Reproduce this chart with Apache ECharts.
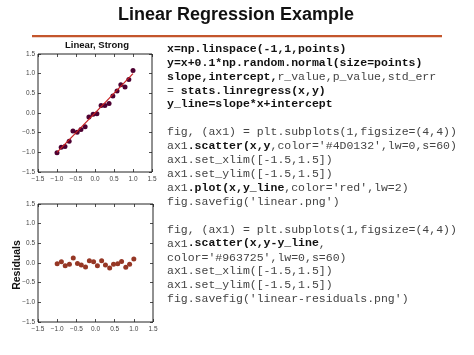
<!DOCTYPE html>
<html>
<head>
<meta charset="utf-8">
<script src="https://cdn.jsdelivr.net/npm/echarts@6/dist/echarts.min.js"></script>
<style>
html,body{margin:0;padding:0;background:#fff;}
#main{width:474px;height:355px;}
</style>
</head>
<body>
<div id="main"></div>
<script>
// ---- data ----
const xVals = [-1.0, -0.89, -0.79, -0.68, -0.58, -0.47, -0.37, -0.26, -0.16, -0.05,
               0.05, 0.16, 0.26, 0.37, 0.47, 0.58, 0.68, 0.79, 0.89, 1.0];
const yVals = [-1.01, -0.87, -0.85, -0.72, -0.46, -0.49, -0.42, -0.35, -0.10, -0.03,
               -0.02, 0.19, 0.19, 0.24, 0.43, 0.56, 0.72, 0.66, 0.85, 1.08];
const residVals = [-0.02, 0.03, -0.07, -0.03, 0.13, -0.01, -0.05, -0.10, 0.06, 0.03,
                   -0.07, 0.06, -0.05, -0.13, -0.03, -0.02, 0.04, -0.11, -0.03, 0.10];
const lineX = [-1.0, 1.0];
const lineY = [-1.0, 1.0];
const tickValues = [-1.5, -1.0, -0.5, 0.0, 0.5, 1.0, 1.5];

const titleText = 'Linear Regression Example';
const subTitleText = 'Linear, Strong';
const residLabel = 'Residuals';

// code lines: array of segments [text, bold?]
const codeLines = [
  [['x=np.linspace(-1,1,points)', 1]],
  [['y=x+0.1*np.random.normal(size=points)', 1]],
  [['slope,intercept,', 1], ['r_value,p_value,std_err', 0]],
  [['= ', 0], ['stats.linregress(x,y)', 1]],
  [['y_line=slope*x+intercept', 1]],
  null,
  [['fig, (ax1) = plt.subplots(1,figsize=(4,4))', 0]],
  [['ax1', 0], ['.scatter(x,y', 1], [",color='#4D0132',lw=0,s=60)", 0]],
  [['ax1.set_xlim([-1.5,1.5])', 0]],
  [['ax1.set_ylim([-1.5,1.5])', 0]],
  [['ax1', 0], ['.plot(x,y_line', 1], [",color='red',lw=2)", 0]],
  [["fig.savefig('linear.png')", 0]],
  null,
  [['fig, (ax1) = plt.subplots(1,figsize=(4,4))', 0]],
  [['ax1', 0], ['.scatter(x,y-y_line', 1], [',', 0]],
  [["color='#963725',lw=0,s=60)", 0]],
  [['ax1.set_xlim([-1.5,1.5])', 0]],
  [['ax1.set_ylim([-1.5,1.5])', 0]],
  [["fig.savefig('linear-residuals.png')", 0]]
];
const codeTop = 49;
const codeLineHeight = 13.9;

// ---- chart ----
const chart = echarts.init(document.getElementById('main'), null, {renderer: 'canvas'});

function fmt(v) {
  const s = Math.abs(v).toFixed(1);
  return v < 0 ? '\u2212' + s : s;
}
const labelStyle = {fontSize: 6.5, color: '#444', fontFamily: 'Liberation Sans'};

function mkAxis(kind, grid, pos, showLabel) {
  return {
    type: 'value', gridIndex: grid, position: pos,
    min: tickValues[0], max: tickValues[tickValues.length - 1], interval: 0.5,
    axisLine: {show: false, onZero: false},
    axisTick: {show: true, inside: true, length: 3, lineStyle: {color: '#222', width: 0.8}},
    splitLine: {show: false},
    axisLabel: Object.assign({show: showLabel, margin: kind === 'x' ? 4 : 3,
      formatter: fmt}, labelStyle)
  };
}

const grids = [
  {left: 38, top: 54, width: 114, height: 118, show: true, borderColor: '#222', borderWidth: 1},
  {left: 38, top: 204, width: 115, height: 118, show: true, borderColor: '#222', borderWidth: 1}
];

const xAxes = [
  mkAxis('x', 0, 'bottom', true), mkAxis('x', 0, 'top', false),
  mkAxis('x', 1, 'bottom', true), mkAxis('x', 1, 'top', false)
];
const yAxes = [
  mkAxis('y', 0, 'left', true), mkAxis('y', 0, 'right', false),
  mkAxis('y', 1, 'left', true), mkAxis('y', 1, 'right', false)
];

const topPoints = xVals.map((x, i) => [x, yVals[i]]);
const residPoints = xVals.map((x, i) => [x, residVals[i]]);
const linePoints = lineX.map((x, i) => [x, lineY[i]]);

const graphics = [];
graphics.push({
  type: 'text', x: 236, y: 15,
  style: {text: titleText, font: 'bold 18px "Liberation Sans"', fill: '#111',
          align: 'center', verticalAlign: 'middle'}
});
graphics.push({
  type: 'rect', shape: {x: 32, y: 35, width: 410, height: 2.2},
  style: {fill: '#c4562c'}
});
graphics.push({
  type: 'text', x: 97, y: 45,
  style: {text: subTitleText, font: 'bold 9.5px "Liberation Sans"', fill: '#111',
          align: 'center', verticalAlign: 'middle'}
});
graphics.push({
  type: 'text', x: 17, y: 265, rotation: Math.PI / 2,
  style: {text: residLabel, font: 'bold 10.5px "Liberation Sans"', fill: '#111',
          align: 'center', verticalAlign: 'middle'}
});

const rich = {
  b: {fontFamily: 'Liberation Mono', fontSize: 11.5, fontWeight: 'bold', fill: '#111', color: '#111'},
  n: {fontFamily: 'Liberation Mono', fontSize: 11.5, fontWeight: 'normal', fill: '#444', color: '#444'}
};
codeLines.forEach((segs, i) => {
  if (!segs) return;
  const txt = segs.map(s => '{' + (s[1] ? 'b' : 'n') + '|' + s[0] + '}').join('');
  graphics.push({
    type: 'text', x: 167, y: codeTop + i * codeLineHeight,
    style: {text: txt, rich: rich, align: 'left', verticalAlign: 'middle',
            font: '11.5px "Liberation Mono"'}
  });
});

chart.setOption({
  animation: false,
  backgroundColor: '#fff',
  grid: grids,
  xAxis: xAxes,
  yAxis: yAxes,
  series: [
    {type: 'scatter', xAxisIndex: 0, yAxisIndex: 0, data: topPoints,
     symbolSize: 5, itemStyle: {color: '#4D0132', opacity: 1}, z: 2},
    {type: 'line', xAxisIndex: 0, yAxisIndex: 0, data: linePoints,
     showSymbol: false, symbol: 'none', lineStyle: {color: '#c82020', width: 1.2}, z: 3},
    {type: 'scatter', xAxisIndex: 2, yAxisIndex: 2, data: residPoints,
     symbolSize: 5, itemStyle: {color: '#963725', opacity: 1}, z: 2}
  ],
  graphic: graphics
});
</script>
</body>
</html>
